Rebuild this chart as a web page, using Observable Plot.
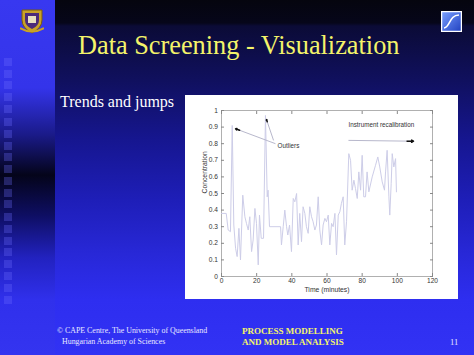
<!DOCTYPE html>
<html><head><meta charset="utf-8">
<script src="https://cdn.jsdelivr.net/npm/d3@7"></script>
<script src="https://cdn.jsdelivr.net/npm/@observablehq/plot@0.6"></script>
<style>
html,body{margin:0;padding:0;}
body{width:474px;height:355px;overflow:hidden;position:relative;}
#bg{position:absolute;left:0;top:0;width:474px;height:355px;
 background:linear-gradient(to bottom,#05050e 0px,#06061a 23px,#0b0b36 26px,#10105e 80px,#161690 140px,#1e1eb8 200px,#2828d8 255px,#2e2ef0 300px,#3232f4 355px);}
#strip{position:absolute;left:0;top:0;width:55px;height:355px;
 background:linear-gradient(to bottom,#3838f0 0px,#3434ea 88px,#1a1a88 135px,#04041a 175px,#0e0e62 215px,#2222c0 258px,#3030ec 300px,#3434f0 355px);}
.sq{position:absolute;left:4px;width:8px;height:8px;background:rgba(110,110,255,0.30);}
.t{position:absolute;white-space:nowrap;font-family:"Liberation Serif","Times New Roman",serif;}
#title{left:78px;top:33px;font-size:26.3px;line-height:26px;color:#f4f46a;}
#sub{left:60px;top:94px;font-size:16px;line-height:16px;color:#ffffff;}
#f1{left:57px;top:327px;font-size:7.9px;line-height:8px;color:#e8e8ff;}
#f2{left:62px;top:338px;font-size:7.9px;line-height:8px;color:#e8e8ff;}
#p1{left:242px;top:327px;font-size:9px;line-height:9px;color:#f4f46a;font-weight:bold;}
#p2{left:242px;top:338px;font-size:9px;line-height:9px;color:#f4f46a;font-weight:bold;}
#pg{left:450px;top:338px;font-size:8.5px;line-height:8.5px;color:#e8e8ff;}
#chart{position:absolute;left:185px;top:95px;}
#crest{position:absolute;left:20px;top:8px;}
#logo{position:absolute;left:441px;top:11px;}
</style></head>
<body>
<div id="bg"></div>
<div id="strip"></div>
<div id="squares"></div>
<svg id="crest" width="24" height="26" viewBox="0 0 24 26">
 <path d="M2 2 H22 V12 Q22 20 12 25 Q2 20 2 12 Z" fill="#c9a227" stroke="#7a5a10" stroke-width="1"/>
 <path d="M5 5 H19 V12 Q19 18 12 21 Q5 18 5 12 Z" fill="#4b2a7a"/>
 <rect x="8" y="8" width="8" height="7" fill="#e8e0c0"/>
 <path d="M0 20 Q12 27 24 20" stroke="#c9a227" stroke-width="2" fill="none"/>
</svg>
<svg id="logo" width="21" height="21" viewBox="0 0 21 21">
 <defs><linearGradient id="lg" x1="0" y1="0" x2="1" y2="1"><stop offset="0" stop-color="#7aa0ff"/><stop offset="1" stop-color="#2040c0"/></linearGradient></defs>
 <rect x="0.5" y="0.5" width="20" height="20" fill="url(#lg)" stroke="#ffffff" stroke-width="1.5"/>
 <path d="M3 17 C9 17 8 4 18 4" stroke="#ffffff" stroke-width="1.6" fill="none"/>
</svg>
<div class="t" id="title">Data Screening - Visualization</div>
<div class="t" id="sub">Trends and jumps</div>
<div id="chart"></div>
<div class="t" id="f1">© CAPE Centre, The University of Queensland</div>
<div class="t" id="f2">Hungarian Academy of Sciences</div>
<div class="t" id="p1">PROCESS MODELLING</div>
<div class="t" id="p2">AND MODEL ANALYSIS</div>
<div class="t" id="pg">11</div>
<script>
// ---- data ----
const time = [0,2.7,3.8,5.1,6.1,7.0,8.0,8.9,9.9,10.8,12.1,13.3,14.2,15.2,16.1,17.1,18.0,19.0,19.9,20.9,21.6,22.6,23.9,25.0,26.0,26.5,27.3,33.6,34.1,35.1,36.0,37.0,37.7,38.7,39.8,40.8,41.7,42.7,43.6,44.5,45.5,46.4,47.4,48.3,49.3,50.2,51.2,52.1,53.1,54.0,55.0,55.9,56.9,57.8,58.8,59.7,60.7,61.6,62.6,63.5,64.5,65.4,66.4,67.3,68.2,69.2,70.1,71.1,72.4,73.4,74.3,75.3,76.2,77.2,78.1,79.1,80.0,80.9,81.9,82.8,83.8,85.7,87.6,88.9,90.0,91.4,92.7,93.3,94.2,95.2,95.7,96.5,97.1,98.0,99.0,99.5];
const conc = [0.38,0.38,0.28,0.27,0.91,0.31,0.17,0.12,0.29,0.10,0.49,0.36,0.32,0.28,0.36,0.15,0.22,0.41,0.32,0.07,0.37,0.23,0.23,0.97,0.48,0.52,0.30,0.30,0.19,0.30,0.40,0.30,0.25,0.31,0.15,0.47,0.45,0.50,0.19,0.38,0.21,0.42,0.38,0.30,0.26,0.42,0.36,0.33,0.28,0.31,0.48,0.28,0.19,0.31,0.35,0.33,0.37,0.19,0.32,0.30,0.38,0.13,0.37,0.39,0.44,0.48,0.19,0.33,0.74,0.70,0.52,0.58,0.53,0.47,0.63,0.52,0.73,0.48,0.48,0.63,0.51,0.60,0.67,0.72,0.66,0.57,0.52,0.63,0.76,0.48,0.37,0.56,0.74,0.66,0.71,0.51];
const xTicks = [0,20,40,60,80,100,120];
const yTicks = [0,0.1,0.2,0.3,0.4,0.5,0.6,0.7,0.8,0.9,1];
const xLabel = "Time (minutes)";
const yLabel = "Concentration";
const noteText = ["Outliers","Instrument recalibration"];
const noteX = [31.9,72.2];
const noteY = [0.785,0.915];
const arrowX1 = [30.7,29.6,72.2];
const arrowY1 = [0.80,0.82,0.82];
const arrowX2 = [8.0,25.6,109.2];
const arrowY2 = [0.89,0.945,0.815];
const squareRows = [58,70,81,93,105,118,130,142,153,165,177,189,200,213,225,237,248,260,272,284,296];

// decorative squares on the slide strip
const sqHost = document.getElementById("squares");
squareRows.forEach(y => { const d = document.createElement("div"); d.className = "sq"; d.style.top = y + "px"; sqHost.appendChild(d); });

const data = time.map((t,i) => ({t, c: conc[i]}));
const notes = noteText.map((s,i) => ({s, x: noteX[i], y: noteY[i]}));
const arrows = arrowX1.map((x1,i) => ({x1, y1: arrowY1[i], x2: arrowX2[i], y2: arrowY2[i]}));
const heads = arrows.map(a => ({x1: a.x1 + (a.x2-a.x1)*0.9, y1: a.y1 + (a.y2-a.y1)*0.9, x2: a.x2, y2: a.y2}));
const fmt = d3.format("~g");

const chart = Plot.plot({
  width: 273, height: 204,
  marginLeft: 36, marginRight: 26, marginTop: 15, marginBottom: 23,
  style: {background: "white", fontFamily: "'Liberation Sans', Arial, sans-serif", fontSize: "6.6px", color: "#333"},
  x: {domain: [0,120], ticks: xTicks},
  y: {domain: [0,1], ticks: yTicks},
  marks: [
    Plot.frame({stroke: "#b0b0b0"}),
    Plot.axisX(xTicks, {anchor: "bottom", tickSize: -3, tickPadding: 5, tickFormat: fmt, label: null, stroke: "#888", fill: "#333"}),
    Plot.axisX(xTicks, {anchor: "top", tickSize: -3, tickFormat: () => "", label: null, stroke: "#888"}),
    Plot.axisY(yTicks, {anchor: "left", tickSize: -3, tickPadding: 6.5, tickFormat: fmt, label: null, stroke: "#888", fill: "#333"}),
    Plot.axisY(yTicks, {anchor: "right", tickSize: -3, tickFormat: () => "", label: null, stroke: "#888"}),
    Plot.text([yLabel], {frameAnchor: "left", dx: -17, rotate: -90, fill: "#333", fontSize: 6.8}),
    Plot.text([xLabel], {frameAnchor: "bottom", dy: 15, fill: "#333", fontSize: 6.8}),
    Plot.line(data, {x: "t", y: "c", stroke: "#cdcde8", strokeWidth: 1}),
    Plot.link(arrows, {x1: "x1", y1: "y1", x2: "x2", y2: "y2", stroke: "#b8b8cc", strokeWidth: 1}),
    Plot.arrow(heads, {x1: "x1", y1: "y1", x2: "x2", y2: "y2", stroke: "#111", strokeWidth: 1.5, headLength: 4}),
    Plot.text(notes, {x: "x", y: "y", text: "s", textAnchor: "start", fill: "#333", fontSize: 6.3})
  ]
});
document.getElementById("chart").appendChild(chart);
</script>
</body></html>
